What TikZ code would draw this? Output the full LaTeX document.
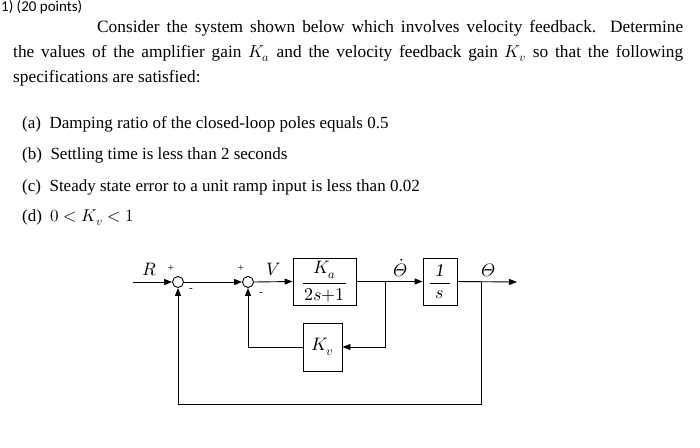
\documentclass[tikz,border=0pt]{standalone}
\usepackage{fontspec}
\setmainfont{Liberation Serif}
\newfontfamily\hdr{Carlito}
\usepackage[math-style=ISO]{unicode-math}
\setmathfont{Latin Modern Math}
\usetikzlibrary{arrows.meta}
\begin{document}
\begin{tikzpicture}[x=1pt,y=-1pt,
  blk/.style={draw,line width=0.9pt,inner sep=0pt},
  sumc/.style={draw,circle,line width=0.9pt,minimum size=11pt,inner sep=0pt},
  ln/.style={line width=0.9pt},
  ar/.style={ln,-{Triangle[length=8pt,width=6pt]}},
  lab/.style={font=\fontsize{18}{18}\selectfont\itshape},
  sg/.style={font=\fontsize{11}{11}\selectfont}]
\useasboundingbox (0,0) rectangle (700,447);
\node[anchor=north west,font=\hdr\fontsize{15}{15}\selectfont,inner sep=0pt] (h) at (1,0) {1) (20 points)};
\node[anchor=north west,inner sep=0pt,text width=670pt,align=justify,font=\fontsize{17.3}{25}\selectfont] (p) at (13,20)
{\hspace*{84pt}Consider the system shown below which involves velocity feedback. Determine\linebreak the values of the amplifier gain $K_a$ and the velocity feedback gain $K_v$ so that the following\linebreak specifications are satisfied:};
\begin{scope}[every node/.style={anchor=west,inner sep=0pt,font=\fontsize{17}{17}\selectfont}]
\node (a) at (22,124) {(a)\ \ Damping ratio of the closed-loop poles equals 0.5};
\node (b) at (22,155) {(b)\ \ Settling time is less than 2 seconds};
\node (c) at (22,187) {(c)\ \ Steady state error to a unit ramp input is less than 0.02};
\node (d) at (22,218) {(d)\ \ $0<K_v<1$};
\end{scope}
\coordinate (in) at (133,282);
\node[sumc] (s1) at (178,282) {};
\node[sumc] (s2) at (248,282) {};
\node[blk,minimum width=63pt,minimum height=47pt] (g) at (324.5,281.5) {};
\draw[line width=0.6pt] (303,283) -- (346,283);
\node[lab] at (324.5,270) {$K_a$};
\node[lab] at (324.5,295) {$2s{+}1$};
\node[blk,minimum width=34pt,minimum height=47pt] (i) at (440,281.5) {};
\draw[line width=0.6pt] (430,283) -- (450,283);
\node[lab] at (440,271) {$\mathit{1}$};
\node[lab] at (440,295) {$s$};
\node[blk,minimum width=39pt,minimum height=48pt,font=\fontsize{18}{18}\selectfont] (k) at (322.5,347) {$K_v$};
\coordinate (out) at (517,282);
\coordinate (b1) at (385,282);
\coordinate (b2) at (481,282);
\draw[ar] (in) -- (s1.west);
\draw[ar] (s1.east) -- (s2.west);
\draw[ar] (s2.east) -- (g.west);
\draw[ar] (g.east) -- (i.west);
\draw[ar] (i.east) -- (out);
\draw[ar] (b1) |- (k.east);
\draw[ar] (k.west) -| (s2.south);
\draw[ar] (b2) |- (178,404) -- (s1.south);
\node[lab] at (150,270) {$R$};
\node[sg] at (171,268) {+};
\node[sg] at (191,290) {-};
\node[sg] at (241,268) {+};
\node[sg] at (261,294) {-};
\node[lab] at (274,270) {$V$};
\node[lab] at (400,268) {$\dot{\Theta}$};
\node[lab] at (488,270) {$\Theta$};
\end{tikzpicture}
\end{document}
